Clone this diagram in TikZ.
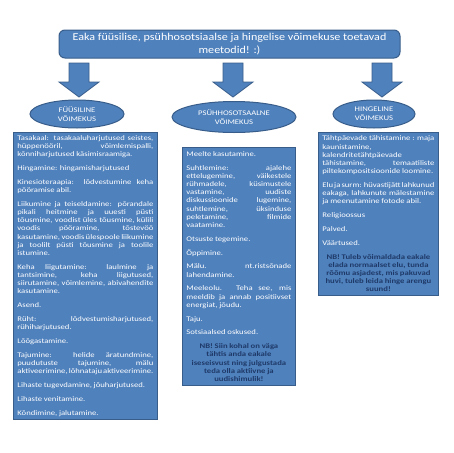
\documentclass[tikz,border=0pt]{standalone}
\usepackage{fontspec}
\setmainfont{Carlito}
\newfontfamily\widefont[FakeStretch=1.22]{Carlito}
\newfontfamily\titlefont[FakeStretch=1.15]{Carlito}
\usetikzlibrary{shapes.geometric,positioning}
\definecolor{boxblue}{HTML}{4F81BD}
\definecolor{boxedge}{HTML}{385D8A}
\definecolor{nbnavy}{HTML}{1F3A68}

\tikzset{
    titlebox/.style={draw=boxedge, fill=boxblue, line width=1pt, rounded corners=6pt,
        text=white, align=center, inner sep=0pt, font=\titlefont\fontsize{10.5}{13}\selectfont},
    oval/.style={ellipse, draw=boxedge, fill=boxblue, line width=1pt, inner sep=0pt,
        text=white, align=center, font=\widefont\fontsize{7.1}{9}\selectfont},
    listbox/.style={draw=boxedge, fill=boxblue, line width=0.8pt, anchor=north west,
        text=white, align=justify, inner xsep=4pt, inner ysep=3pt,
        font=\widefont\fontsize{7.1}{8.2}\selectfont,
        execute at begin node={\setlength{\parskip}{5.6pt}\parindent=0pt
            \spaceskip=.24em plus 2em minus .12em
            \hyphenpenalty=10000 \tolerance=10000 \hbadness=10000}},
    blockarrow/.style={draw=boxedge, fill=boxblue, line width=0.8pt},
}
\newcommand{\nbnote}[1]{{\centering\color{nbnavy}\bfseries #1\par}}
\newcommand{\lb}{\linebreak}

\begin{document}
\begin{tikzpicture}[x=1pt,y=-1pt]
    \useasboundingbox (0,0) rectangle (453,453);

    % Title
    \node[titlebox, minimum width=341pt, minimum height=28pt] (title) at (229.5,44)
        {Eaka füüsilise, psühhosotsiaalse ja hingelise võimekuse toetavad\\ meetodid! :)};

    % Block arrows
    \foreach \ax in {79,233,382}
        \draw[blockarrow] (\ax-10,63) -- (\ax+10,63) -- (\ax+10,82) -- (\ax+20,82)
            -- (\ax,97) -- (\ax-20,82) -- (\ax-10,82) -- cycle;

    % Ovals
    \node[oval, minimum width=94pt, minimum height=28pt] (oFys) at (77,114) {FÜÜSILINE\\VÕIMEKUS};
    \node[oval, minimum width=124pt, minimum height=31pt] (oPsy) at (234,117) {PSÜHHOSOTSAALNE\\VÕIMEKUS};
    \node[oval, minimum width=82pt, minimum height=28pt] (oHin) at (374,114) {HINGELINE\\VÕIMEKUS};

    % Physical
    \node[listbox, text width=136pt, minimum height=286pt] (lFys) at (13,132) {%
        Tasakaal: tasakaaluharjutused seistes,\lb{} hüppenööril, võimlemispalli,\lb{} kõnniharjutused käsimisraamiga.\par
        Hingamine: hingamisharjutused\par
        Kinesioteraapia: lõdvestumine keha\lb{} pööramise abil.\par
        Liikumine ja teiseldamine: põrandale\lb{} pikali heitmine ja uuesti püsti\lb{} tõusmine, voodist üles tõusmine, külili\lb{} voodis pööramine, tõstevöö\lb{} kasutamine, voodis ülespoole liikumine\lb{} ja toolilt püsti tõusmine ja toolile\lb{} istumine.\par
        Keha liigutamine: laulmine ja\lb{} tantsimine, keha liigutused,\lb{} siirutamine, võimlemine, abivahendite\lb{} kasutamine.\par
        Asend.\par
        Rüht: lõdvestumisharjutused,\lb{} rühiharjutused.\par
        Lõõgastamine.\par
        Tajumine: helide äratundmine,\lb{} puudutuste tajumine, mälu\lb{} aktiveerimine, lõhnataju aktiveerimine.\par
        Lihaste tugevdamine, jõuharjutused.\par
        Lihaste venitamine.\par
        Kõndimine, jalutamine.};

    % Psychosocial
    \node[listbox, text width=105pt, minimum height=238pt] (lPsy) at (182,147) {%
        Meelte kasutamine.\par
        Suhtlemine: ajalehe\lb{} ettelugemine, väikestele\lb{} rühmadele, küsimustele\lb{} vastamine, uudiste\lb{} diskussioonide lugemine,\lb{} suhtlemine, üksinduse\lb{} peletamine, filmide\lb{} vaatamine.\par
        Otsuste tegemine.\par
        Õppimine.\par
        Mälu. nt.ristsõnade\lb{} lahendamine.\par
        Meeleolu. Teha see, mis\lb{} meeldib ja annab positiivset\lb{} energiat, jõudu.\par
        Taju.\par
        Sotsiaalsed oskused.\par
        \nbnote{NB! Siin kohal on väga\\ tähtis anda eakale\\ iseseisvust ning julgustada\\ teda olla aktiivne ja\\ uudishimulik!}};

    % Spiritual
    \node[listbox, text width=112pt, minimum height=163pt] (lHin) at (318,132) {%
        Tähtpäevade tähistamine : maja\lb{} kaunistamine,\lb{} kalendritetähtpäevade\lb{} tähistamine, temaatiliste\lb{} piltekompositsioonide loomine.\par
        Elu ja surm: hüvastijätt lahkunud\lb{} eakaga, lahkunute mälestamine\lb{} ja meenutamine fotode abil.\par
        Religioossus\par
        Palved.\par
        Väärtused.\par
        \nbnote{NB! Tuleb võimaldada eakale\\ elada normaalset elu, tunda\\ rõõmu asjadest, mis pakuvad\\ huvi, tuleb leida hinge arengu\\ suund!}};
\end{tikzpicture}
\end{document}
